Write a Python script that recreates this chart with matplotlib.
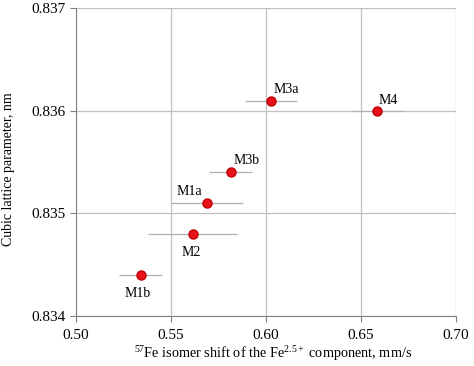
import matplotlib
matplotlib.use("Agg")
import matplotlib.pyplot as plt

labels = ["M3a", "M4", "M3b", "M1a", "M2", "M1b"]
x = [0.6026, 0.6584, 0.5816, 0.5690, 0.5616, 0.5342]
y = [0.83609, 0.83600, 0.83540, 0.83510, 0.83480, 0.83440]
xerr = [0.0137, 0.0132, 0.0113, 0.0187, 0.0234, 0.0113]
offsets = [(2, 6), (1, 5), (2, 6), (-22, 6), (-8, -16), (-12, -16)]

plt.rcParams['font.family'] = ['Liberation Serif', 'DejaVu Serif']
plt.rcParams['mathtext.fontset'] = 'custom'
plt.rcParams['mathtext.rm'] = 'Liberation Serif'
plt.rcParams['mathtext.it'] = 'Liberation Serif:italic'
plt.rcParams['mathtext.bf'] = 'Liberation Serif:bold'

fig = plt.figure(figsize=(4.74, 3.66), dpi=100)
ax = fig.add_axes([0.160, 0.137, 0.802, 0.841])

ax.errorbar(x, y, xerr=xerr, fmt='none', ecolor='#b0b0b0', elinewidth=0.9, capsize=0, zorder=2)
ax.plot(x, y, 'o', color='#e8101a', markeredgecolor='#c00000', markersize=6.5, zorder=3)
for lab, xi, yi, off in zip(labels, x, y, offsets):
    ax.annotate(lab, (xi, yi), xytext=off, textcoords='offset points', fontsize=10)

ax.set_xlim(0.50, 0.70)
ax.set_ylim(0.834, 0.837)
ax.set_xticks([0.50, 0.55, 0.60, 0.65, 0.70])
ax.set_xticklabels(["0.50", "0.55", "0.60", "0.65", "0.70"])
ax.set_yticks([0.834, 0.835, 0.836, 0.837])
ax.set_yticklabels(["0.834", "0.835", "0.836", "0.837"])
ax.grid(True, color='#c0c0c0', linewidth=0.9)
ax.set_axisbelow(True)
for s in ['top', 'right']:
    ax.spines[s].set_visible(False)
for s in ['left', 'bottom']:
    ax.spines[s].set_color('#808080')
ax.tick_params(axis='both', labelsize=11, color='#808080', length=4)
ax.tick_params(axis='x', pad=5.5)
ax.set_xlabel(r"$\mathrm{^{57}}$Fe isomer shift of the Fe$\mathrm{^{2.5+}}$ component, mm/s", fontsize=10.3)
ax.xaxis.set_label_coords(0.518, -0.092)
ax.set_ylabel("Cubic lattice parameter, nm", fontsize=10)
ax.yaxis.set_label_coords(-0.16, 0.477)

fig.savefig("out.png", dpi=100)
